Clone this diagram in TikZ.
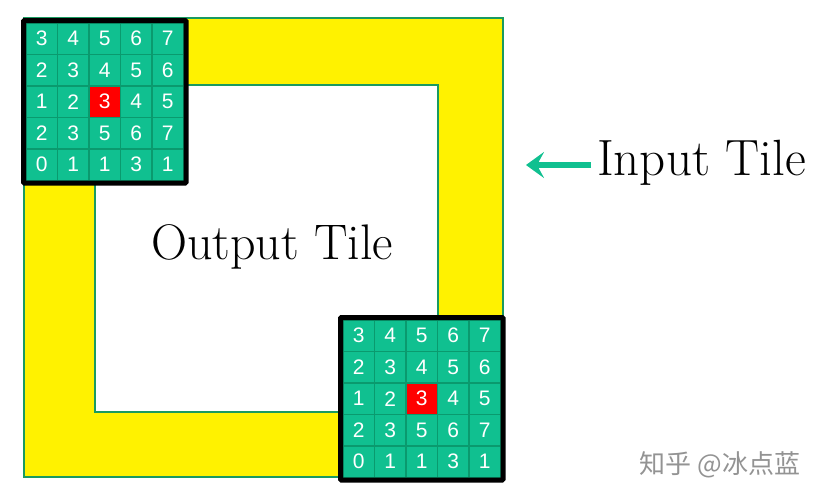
\documentclass[tikz,border=0pt]{standalone}
\usepackage{fontspec}
\newfontfamily\arial{Liberation Sans}
\newfontfamily\cjk{Noto Sans CJK SC}
\usetikzlibrary{arrows.meta}
\definecolor{tealc}{HTML}{10C090}
\definecolor{gridl}{HTML}{0A9A6E}
\definecolor{edgeg}{HTML}{1A9A60}
\tikzset{
  cell/.style={draw=gridl,line width=1.2pt,fill=tealc,minimum size=31.5pt,inner sep=0pt,text=white,font=\arial\fontsize{21}{21}\selectfont},
  hot/.style={cell,fill=red},
}
\newcommand{\tilegrid}[3]{%
  \foreach \r/\row in {0/{3,4,5,6,7},1/{2,3,4,5,6},2/{1,2,3,4,5},3/{2,3,5,6,7},4/{0,1,1,3,1}}{
    \foreach \v [count=\c from 0] in \row {
      \ifnum\r=2 \ifnum\c=2
        \node[hot] (#3-\r-\c) at ({#1+15.75+31.5*\c},{#2+15.75+31.5*\r}) {\v};
      \else
        \node[cell] (#3-\r-\c) at ({#1+15.75+31.5*\c},{#2+15.75+31.5*\r}) {\v};
      \fi\else
        \node[cell] (#3-\r-\c) at ({#1+15.75+31.5*\c},{#2+15.75+31.5*\r}) {\v};
      \fi
    }
  }
  \draw[line width=5pt,rounded corners=1pt] (#1-2.5,#2-2.5) rectangle (#1+160,#2+160);
}
\begin{document}
\begin{tikzpicture}[x=1pt,y=-1pt]
\useasboundingbox (0,0) rectangle (814,501);
\fill[yellow,draw=edgeg,line width=1.5pt] (24,18) rectangle (503,477);
\fill[white,draw=edgeg,line width=1.5pt] (95,85) rectangle (438,412);
\tilegrid{26}{23}{a}
\tilegrid{343}{320}{b}
\node[font=\fontsize{50}{50}\selectfont] (out) at (272,247) {Output Tile};
\node[font=\fontsize{51}{51}\selectfont,anchor=west,inner sep=0pt] (in) at (597,163) {Input Tile};
\coordinate (tip) at (526,165);
\draw[tealc,line width=6.5pt,-{Stealth[length=18pt,width=26pt,inset=7pt]}] (in.west)++(-6,2) -- (tip);
\node[font=\cjk\fontsize{26}{26}\selectfont,text=gray!85] (wm) at (720,465) {知乎 @冰点蓝};
\end{tikzpicture}
\end{document}
